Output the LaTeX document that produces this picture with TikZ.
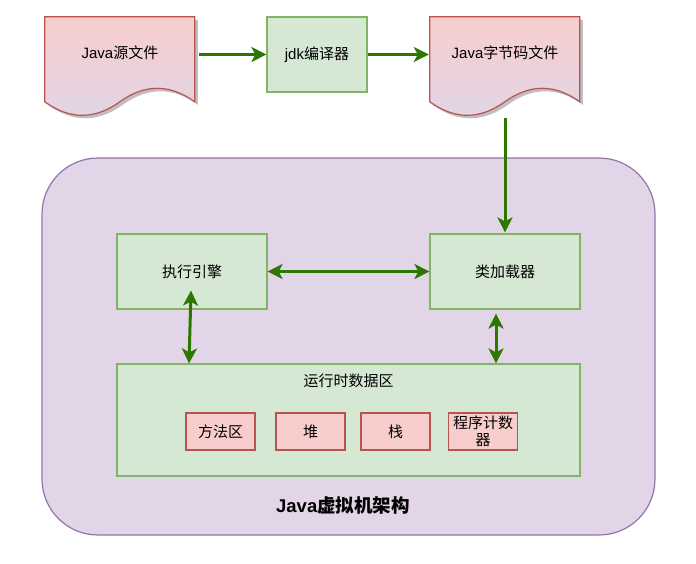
\documentclass[tikz,border=0pt]{standalone}
\usepackage{fontspec}
\setmainfont{Noto Sans CJK SC}
\newfontfamily\latinfont{Liberation Sans}
\usetikzlibrary{arrows.meta,backgrounds}

\definecolor{redFill}{HTML}{F8CECC}
\definecolor{redLine}{HTML}{B85450}
\definecolor{greenFill}{HTML}{D5E8D4}
\definecolor{greenLine}{HTML}{82B366}
\definecolor{purpleFill}{HTML}{E1D5E7}
\definecolor{purpleLine}{HTML}{9673A6}
\definecolor{arrowGreen}{HTML}{2D7600}

\begin{document}
\begin{tikzpicture}[
        % 像素坐标, y 向下
        x=1pt, y=-1pt,
        >={Stealth[length=15pt, width=15pt, inset=4pt]},
        every node/.style={font=\fontsize{15}{17}\selectfont, text=black},
        vm/.style={draw=purpleLine, fill=purpleFill, line width=1.2pt, rounded corners=56pt, minimum width=613pt, minimum height=377pt},
        box/.style={draw=greenLine, fill=greenFill, line width=1.2pt, minimum width=150pt, minimum height=75pt, inner sep=0pt},
        cell/.style={draw=redLine, fill=redFill, line width=1.2pt, minimum width=69pt, minimum height=37pt, inner sep=0pt, align=center},
        doc/.style={minimum width=150pt, minimum height=72pt, inner sep=0pt},
        docFill/.style={top color=redFill, bottom color=purpleFill, draw=redLine, line width=1.2pt},
        docShadow/.style={fill=black!25},
        % 箭头样式
        flow/.style={->, line width=3pt, arrowGreen},
        biflow/.style={<->, line width=3pt, arrowGreen}
    ]

    % --- 0. 画布大小 ---
    \useasboundingbox (0,0) rectangle (696,563);

    % --- 1. 虚拟机容器 ---
    \node[vm] (jvm) at (348.5,346.5) {};
    \node[font=\fontsize{18.5}{21}\selectfont\bfseries] (jvmTitle) at (343,505) {{\latinfont Java}虚拟机架构};

    % --- 2. 顶部: 源文件 -> 编译器 -> 字节码 ---
    \node[doc] (src) at (120,53) {{\latinfont Java}源文件};
    \node[box, minimum width=100pt] (jdk) at (317,54.5) {{\latinfont jdk}编译器};
    \node[doc] (cls) at (505,53) {{\latinfont Java}字节码文件};

    % 文档形状 (波浪底边), 画在文字下面
    \begin{scope}[on background layer]
        \foreach \d in {src, cls} {
            \begin{scope}[shift={(\d.north west)}]
                \path[docShadow] (3,3) -- (153,3) -- (153,88)
                    .. controls (128,70) and (103,70) .. (78,88)
                    .. controls (53,106) and (28,106) .. (3,88) -- cycle;
                \path[docFill] (0,0) -- (150,0) -- (150,85)
                    .. controls (125,67) and (100,67) .. (75,85)
                    .. controls (50,103) and (25,103) .. (0,85) -- cycle;
            \end{scope}
        }
    \end{scope}

    % --- 3. 执行引擎 / 类加载器 ---
    \node[box] (engine) at (192,271.5) {执行引擎};
    \node[box] (loader) at (505,271.5) {类加载器};

    % --- 4. 运行时数据区 ---
    \node[box, minimum width=463pt, minimum height=112pt] (runtime) at (348.5,420) {};
    \node (rtTitle) at ([yshift=-17pt]runtime.north) {运行时数据区};
    \foreach \nm/\px/\txt in {method/220.5/方法区, heap/310.5/堆, stack/395.5/栈, pc/483/{程序计数\\器}} {
        \node[cell] (\nm) at (\px,431.5) {\txt};
    }

    % --- 5. 连线 ---
    \draw[flow, shorten <=4pt] (jdk.west -| src.east) -- (jdk.west);
    \draw[flow, shorten >=1pt] (jdk.east) -- (jdk.east -| cls.west);
    \draw[flow, shorten >=1pt] ([yshift=-101pt]cls.north) -- (loader.north);
    \draw[biflow] (engine.east) -- (loader.west);
    \draw[biflow] ([shift={(-1pt,19pt)}]engine.south) -- ([xshift=-3pt]runtime.north -| engine.south);
    \draw[biflow] ([shift={(-9pt,-4pt)}]loader.south) -- ([xshift=-9pt]runtime.north -| loader.south);

\end{tikzpicture}
\end{document}
